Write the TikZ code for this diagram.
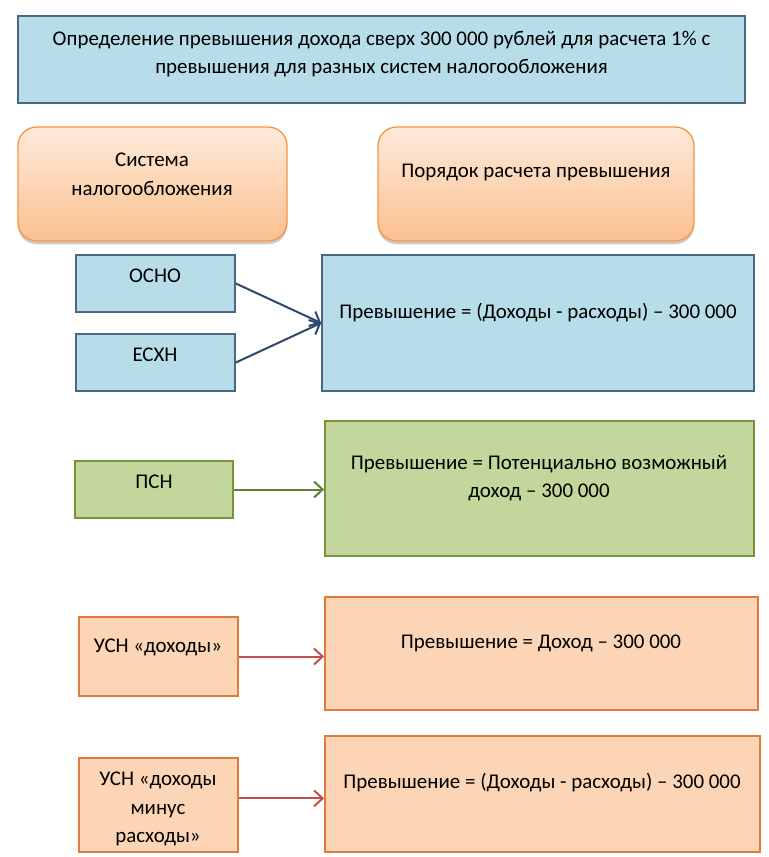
\documentclass[tikz,border=0pt]{standalone}
\usepackage{fontspec}
\setmainfont{Carlito}
\usetikzlibrary{fit,arrows.meta,shadows}

\definecolor{bluefill}{HTML}{B7DDE8}
\definecolor{blueline}{HTML}{4A6785}
\definecolor{bluearrow}{HTML}{2C4A6E}
\definecolor{greenfill}{HTML}{C3D69B}
\definecolor{greenline}{HTML}{77933C}
\definecolor{greenarrow}{HTML}{5E7F34}
\definecolor{peachfill}{HTML}{FBD5B5}
\definecolor{peachline}{HTML}{E07B39}
\definecolor{redarrow}{HTML}{C0504D}
\definecolor{orangetop}{HTML}{FDEADA}
\definecolor{orangebot}{HTML}{FAC08F}
\definecolor{orangeline}{HTML}{F79646}

\tikzset{
  every node/.style={font=\fontsize{15.7}{21.5}\selectfont},
  txt/.style={align=center, inner sep=0},
  box/.style={inner sep=0, line width=1.3pt},
  bluebox/.style={box, draw=blueline, fill=bluefill},
  greenbox/.style={box, draw=greenline, fill=greenfill},
  peachbox/.style={box, draw=peachline, fill=peachfill},
  headbox/.style={box, draw=orangeline, line width=1pt, rounded corners=14pt,
    top color=orangetop, bottom color=orangebot,
    drop shadow={shadow xshift=0pt, shadow yshift=-2.5pt, opacity=0.2, fill=black}},
  arr/.style={line width=1.5pt, -{Straight Barb[length=6.5pt, width=12pt]}}
}

\begin{document}
\begin{tikzpicture}[x=0.75pt, y=-0.75pt]
\useasboundingbox (0,0) rectangle (768,857);

\node[bluebox, fit={(18,16) (745,103)}] (title) {};
\node[txt] (titletxt) at (381.5,54) {Определение превышения дохода сверх 300 000 рублей для расчета 1\% с\\превышения для разных систем налогообложения};

\node[headbox, fit={(18,127) (287,241)}] (hsys) {};
\node[txt] (hsystxt) at (152,174) {Система\\налогообложения};
\node[headbox, fit={(378,127) (694,241)}] (hcalc) {};
\node[txt] (hcalctxt) at (536,172) {Порядок расчета превышения};

\node[bluebox, fit={(76,255) (235,312)}] (osno) {};
\node[txt] (osnotxt) at (155,276) {ОСНО};
\node[bluebox, fit={(76,334) (235,391)}] (eshn) {};
\node[txt] (eshntxt) at (155,355) {ЕСХН};
\node[bluebox, fit={(322,255) (754,391)}] (rosno) {};
\node[txt] (rosnotxt) at (538,313) {Превышение = (Доходы - расходы) – 300 000};

\node[greenbox, fit={(75,461) (233,518)}] (psn) {};
\node[txt] (psntxt) at (154,482) {ПСН};
\node[greenbox, fit={(325,421) (754,556)}] (rpsn) {};
\node[txt] (rpsntxt) at (539,478) {Превышение = Потенциально возможный\\доход – 300 000};

\node[peachbox, fit={(79,617) (238,696)}] (usn) {};
\node[txt] (usntxt) at (158,647) {УСН «доходы»};
\node[peachbox, fit={(325,597) (758,710)}] (rusn) {};
\node[txt] (rusntxt) at (541,643) {Превышение = Доход – 300 000};

\node[peachbox, fit={(79,758) (238,852)}] (usnr) {};
\node[txt] (usnrtxt) at (158,809) {УСН «доходы\\минус\\расходы»};
\node[peachbox, fit={(325,736) (760,852)}] (rusnr) {};
\node[txt] (rusnrtxt) at (542,783) {Превышение = (Доходы - расходы) – 300 000};

\draw[arr, bluearrow] (osno.east) -- (rosno.west);
\draw[arr, bluearrow] (eshn.east) -- (rosno.west);
\draw[arr, greenarrow] (psn.east) -- (psn.east -| rpsn.west);
\draw[arr, redarrow] (usn.east) -- (usn.east -| rusn.west);
\draw[arr, redarrow] ([yshift=5pt]usnr.east) -- ([yshift=5pt]usnr.east -| rusnr.west);
\end{tikzpicture}
\end{document}
